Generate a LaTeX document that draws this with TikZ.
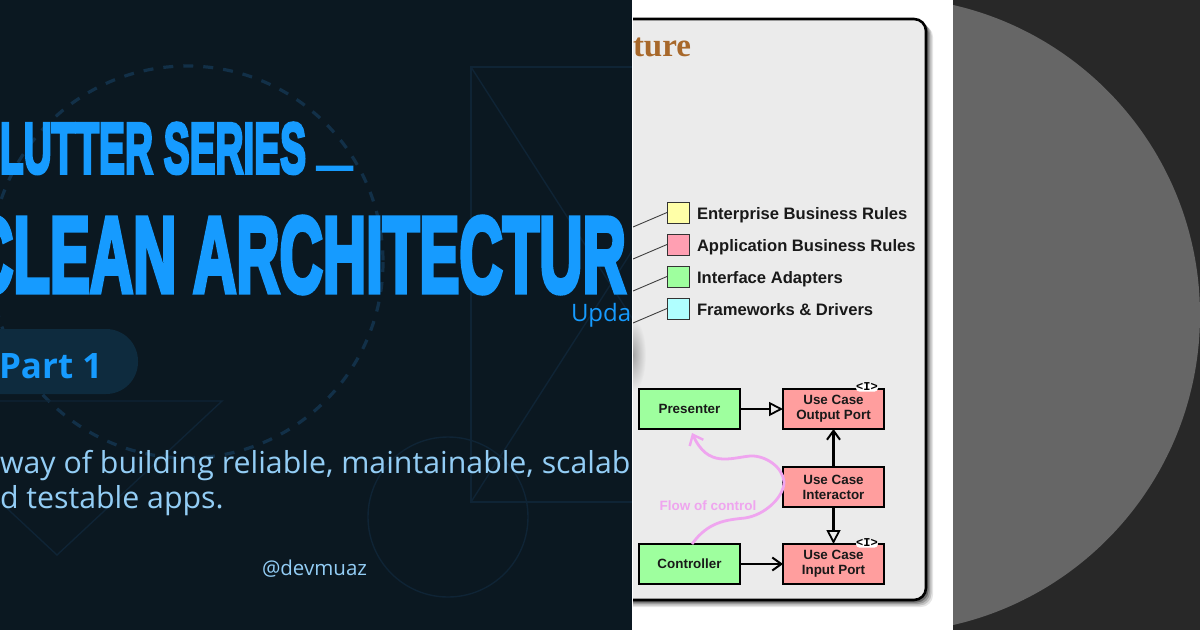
\documentclass[tikz,border=0pt]{standalone}
\usepackage{fontspec}
\usepackage{graphicx}
\setmainfont{Liberation Sans}
\newfontfamily\titlefont[BoldFeatures={FakeBold=5}]{Liberation Sans}
\newfontfamily\bodyfont{Open Sans}
\newfontfamily\headfont{Liberation Serif}
\newfontfamily\portfont{Liberation Mono}
\usetikzlibrary{positioning,arrows.meta,shadings}

\definecolor{darkbg}{HTML}{0B1821}
\definecolor{greybg}{HTML}{282828}
\definecolor{discgrey}{HTML}{666666}
\definecolor{flutterblue}{HTML}{169BFF}
\definecolor{softblue}{HTML}{93CDF5}
\definecolor{pillblue}{HTML}{0E2B3E}
\definecolor{faintline}{HTML}{0F2435}
\definecolor{dashline}{HTML}{123048}
\definecolor{panelgrey}{HTML}{EBEBEB}
\definecolor{headbrown}{HTML}{A8682A}
\definecolor{rulesyellow}{HTML}{FFFFA8}
\definecolor{rulespink}{HTML}{FF9FB2}
\definecolor{adaptgreen}{HTML}{9EFF9E}
\definecolor{driverblue}{HTML}{B0FFFF}
\definecolor{casered}{HTML}{FF9E9E}
\definecolor{flowpink}{HTML}{EFA5EF}

\newcommand{\bigtitle}[3]{\resizebox{#1pt}{#2pt}{\titlefont\bfseries #3}}
\newcommand{\fsize}[1]{\fontsize{#1}{#1}\selectfont}

\tikzset{
  flat/.style={inner sep=0pt, outer sep=0pt},
  faint/.style={draw=faintline, line width=1.4pt},
  legendbox/.style={draw=black!80, line width=0.9pt, minimum width=22pt, minimum height=21pt, inner sep=0pt, outer sep=0pt},
  legendtext/.style={flat, text height=12pt, text depth=3.5pt, yshift=-3pt, font=\fsize{16.6}\bfseries, text=black!90},
  legendline/.style={draw=black!75, line width=0.9pt},
  archbox/.style={draw=black, line width=1.8pt, minimum width=101pt, minimum height=40pt, inner sep=0pt, outer sep=0pt,
    align=center, font=\fontsize{13.4}{15}\selectfont\bfseries, text=black!90},
  greenbox/.style={archbox, fill=adaptgreen},
  redbox/.style={archbox, fill=casered},
  ibadge/.style={fill=white, rounded corners=3pt, inner xsep=0pt, inner ysep=0pt, text height=6pt, text depth=1pt,
    font=\portfont\fsize{12}\bfseries},
  openhead/.style={-{Triangle[open, length=14pt, width=14pt, line width=1.8pt]}, line width=2.2pt, draw=black},
  veehead/.style={-{Straight Barb[length=9pt, width=13pt, line width=2pt]}, line width=2.2pt, draw=black},
  flowline/.style={draw=flowpink, line width=2.8pt, -{Straight Barb[length=9pt, width=15pt, line width=2.4pt]}},
}

\begin{document}
\begin{tikzpicture}[x=1pt, y=-1pt]
\useasboundingbox (0,0) rectangle (1200,630);

% left panel
\fill[darkbg] (0,0) rectangle (632,630);
\begin{scope}
  \clip (0,0) rectangle (632,630);
  \draw[dashline, line width=3.2pt, dash pattern=on 10pt off 10pt] (187,262) circle (196);
  \draw[faint] (471,67) rectangle (750,502);
  \draw[faint] (471,67) -- (750,502) (471,502) -- (750,67);
  \draw[faint] (-108,401) -- (222,401) -- (57,555) -- cycle;
  \draw[faint] (448,517) circle (80);
  \fill[pillblue, rounded corners=32pt] (-60,329) rectangle (138,394);

  \node[flat, anchor=base west, text=flutterblue] (series) at (0,173) {\bigtitle{306}{50}{LUTTER SERIES}};
  \node[flat, anchor=base west, text=flutterblue, font=\titlefont\fsize{60}\bfseries] (dash) at (318,162) {\_};
  \node[flat, anchor=base west, text=flutterblue] (clean) at (-30,292) {\bigtitle{656}{75}{CLEAN ARCHITECTUR}};
  \node[flat, anchor=base west, text=flutterblue, font=\bodyfont\fsize{24}] (upda) at (571,321) {Upda};
  \node[flat, anchor=base west, text=flutterblue, font=\bodyfont\fsize{35}\bfseries] (part) at (-1,378) {Part 1};
  \node[flat, anchor=base west, text=softblue, font=\bodyfont\fsize{30.3}] (lineone) at (0,473) {way of building reliable, maintainable, scalab};
  \node[flat, anchor=base west, text=softblue, font=\bodyfont\fsize{30.3}] (linetwo) at (0,508) {d testable apps.};
  \node[flat, anchor=base west, text=softblue, font=\bodyfont\fsize{20.5}] (handle) at (262,575) {@devmuaz};
\end{scope}

% white slab with the clipped panel
\fill[white] (632,0) rectangle (953,630);
\begin{scope}
  \clip (633,0) rectangle (953,630);
  \foreach \off/\op in {6/0.10, 4.5/0.15, 3/0.2, 1.5/0.3}
    \fill[black, opacity=\op, rounded corners=12pt] (560+\off,19+\off) rectangle (927+\off,601+\off);
  \draw[fill=panelgrey, draw=black, line width=2.6pt, rounded corners=12pt] (560,19) rectangle (926,600);
  \shade[inner color=black!35, outer color=panelgrey] (633,355) ellipse (13 and 36);
  \node[flat, anchor=base west, text=headbrown, font=\headfont\fsize{33}\bfseries] (head) at (633,56) {ture};

  \node[legendbox, fill=rulesyellow] (yellowkey) at (678,212.5) {};
  \node[legendbox, fill=rulespink, below=11pt of yellowkey] (pinkkey) {};
  \node[legendbox, fill=adaptgreen, below=11pt of pinkkey] (greenkey) {};
  \node[legendbox, fill=driverblue, below=11pt of greenkey] (bluekey) {};
  \node[legendtext, right=8pt of yellowkey] (yellowtext) {Enterprise Business Rules};
  \node[legendtext, right=8pt of pinkkey] (pinktext) {Application Business Rules};
  \node[legendtext, right=8pt of greenkey] (greentext) {Interface Adapters};
  \node[legendtext, right=8pt of bluekey] (bluetext) {Frameworks \& Drivers};
  \coordinate (yellowend) at (633,227);
  \coordinate (pinkend) at (633,259);
  \coordinate (greenend) at (633,291);
  \coordinate (blueend) at (633,323);
  \draw[legendline] (yellowkey.west) -- (yellowend);
  \draw[legendline] (pinkkey.west) -- (pinkend);
  \draw[legendline] (greenkey.west) -- (greenend);
  \draw[legendline] (bluekey.west) -- (blueend);

  \node[greenbox] (presenter) at (689.5,409) {Presenter};
  \node[redbox, right=43pt of presenter] (outport) {Use Case\\Output Port};
  \node[redbox, below=38pt of outport] (interactor) {Use Case\\Interactor};
  \node[redbox, below=37pt of interactor] (inport) {Use Case\\Input Port};
  \node[greenbox, left=43pt of inport] (controller) {Controller};
  \node[ibadge] (outbadge) at (867,388) {<I>};
  \node[ibadge] (inbadge) at (867,544) {<I>};

  \draw[openhead] (presenter) -- (outport);
  \draw[veehead] (interactor) -- (outport);
  \draw[openhead] (interactor) -- (inport);
  \draw[veehead] (controller) -- (inport);

  \coordinate (flowstart) at (692,544);
  \coordinate (flowtip) at (692,433);
  \draw[flowline] (flowstart) .. controls (708,522) and (725,520) .. (745,518)
    .. controls (765,515) and (784,497) .. (784,482)
    .. controls (783,467) and (765,455) .. (750,456)
    .. controls (730,458) and (708,468) .. (flowtip);
  \node[flat, text=flowpink, font=\fsize{13.5}\bfseries] (flowlabel) at (708,506) {Flow of control};
\end{scope}

% right panel
\fill[greybg] (953,0) rectangle (1200,630);
\begin{scope}
  \clip (953,0) rectangle (1200,630);
  \fill[discgrey] (882,315) circle (318);
\end{scope}
\end{tikzpicture}
\end{document}
